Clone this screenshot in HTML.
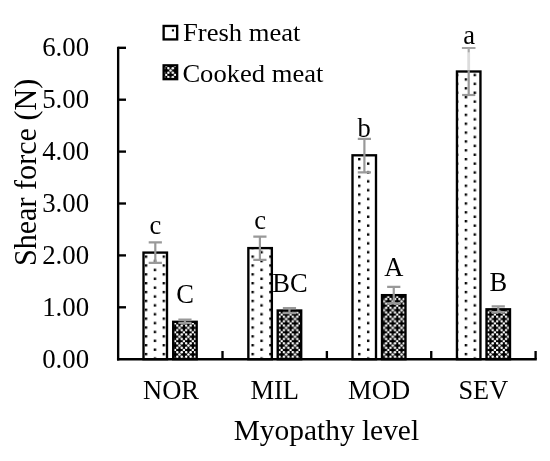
<!DOCTYPE html>
<html><head><meta charset="utf-8"><title>Shear force chart</title>
<style>
html,body{margin:0;padding:0;background:#fff;}
svg{display:block;}
text{font-family:"Liberation Serif","DejaVu Serif",serif;fill:#000;}
</style></head><body>
<svg width="550" height="461" viewBox="0 0 550 461">
<defs>
<pattern id="dots" patternUnits="userSpaceOnUse" x="144.85" y="255.45" width="17.77" height="8.86">
<rect width="17.77" height="8.86" fill="#fff"/>
<rect x="0" y="0" width="2.4" height="2.4" fill="#000"/>
<rect x="8.885" y="4.43" width="2.4" height="2.4" fill="#000"/>
</pattern>
<pattern id="trel" patternUnits="userSpaceOnUse" x="176.15" y="324.45" width="8.885" height="8.86">
<rect width="8.885" height="8.86" fill="#000"/>
<g fill="#fff">
<circle cx="1.150" cy="1.150" r="1.27"/>
<circle cx="5.592" cy="1.150" r="1.27"/>
<circle cx="3.371" cy="3.365" r="1.27"/>
<circle cx="1.150" cy="5.580" r="1.27"/>
<circle cx="5.592" cy="5.580" r="1.27"/>
<circle cx="7.814" cy="7.795" r="1.27"/>
</g>
</pattern>
<pattern id="trel2" patternUnits="userSpaceOnUse" x="167.25" y="67.05" width="8.885" height="8.86">
<rect width="8.885" height="8.86" fill="#000"/>
<g fill="#fff">
<circle cx="1.150" cy="1.150" r="1.27"/>
<circle cx="5.592" cy="1.150" r="1.27"/>
<circle cx="3.371" cy="3.365" r="1.27"/>
<circle cx="1.150" cy="5.580" r="1.27"/>
<circle cx="5.592" cy="5.580" r="1.27"/>
<circle cx="7.814" cy="7.795" r="1.27"/>
</g>
</pattern>
</defs>
<rect width="550" height="461" fill="#fff"/>
<rect x="143.50" y="252.60" width="23.5" height="106.60" fill="url(#dots)" stroke="#000" stroke-width="2.35"/>
<rect x="173.20" y="321.80" width="23.5" height="37.40" fill="url(#trel)" stroke="#000" stroke-width="2.35"/>
<rect x="248.35" y="248.10" width="23.5" height="111.10" fill="url(#dots)" stroke="#000" stroke-width="2.35"/>
<rect x="277.70" y="310.50" width="23.5" height="48.70" fill="url(#trel)" stroke="#000" stroke-width="2.35"/>
<rect x="352.50" y="155.30" width="23.5" height="203.90" fill="url(#dots)" stroke="#000" stroke-width="2.35"/>
<rect x="382.00" y="295.15" width="23.5" height="64.05" fill="url(#trel)" stroke="#000" stroke-width="2.35"/>
<rect x="456.95" y="71.50" width="23.5" height="287.70" fill="url(#dots)" stroke="#000" stroke-width="2.35"/>
<rect x="486.50" y="309.30" width="23.5" height="49.90" fill="url(#trel)" stroke="#000" stroke-width="2.35"/>
<g stroke="#000" stroke-width="2.35" fill="none" stroke-linecap="butt">
<path d="M118.15 46.63 V360.38"/>
<path d="M116.98 359.2 H536.77"/>
<path d="M118.15 307.30 H126"/>
<path d="M118.15 255.40 H126"/>
<path d="M118.15 203.50 H126"/>
<path d="M118.15 151.60 H126"/>
<path d="M118.15 99.70 H126"/>
<path d="M118.15 47.80 H126"/>
<path d="M222.51 359.2 V351"/>
<path d="M326.88 359.2 V351"/>
<path d="M431.24 359.2 V351"/>
<path d="M535.60 359.2 V351"/>
</g>
<g stroke="#999" stroke-width="2.2" fill="none"><path d="M148.70 242.40 H161.90 M148.70 262.80 H161.90"/><path d="M155.30 242.40 V262.80"/></g>
<g stroke="#999" stroke-width="2.2" fill="none"><path d="M178.35 319.70 H191.55 M178.35 322.90 H191.55"/><path d="M184.95 319.70 V322.90"/></g>
<g stroke="#999" stroke-width="2.2" fill="none"><path d="M253.30 236.60 H266.50 M253.30 259.80 H266.50"/><path d="M259.90 236.60 V259.80"/></g>
<g stroke="#999" stroke-width="2.2" fill="none"><path d="M282.85 308.10 H296.05 M282.85 313.10 H296.05"/><path d="M289.45 308.10 V313.10"/></g>
<g stroke="#999" stroke-width="2.2" fill="none"><path d="M357.80 138.90 H371.00 M357.80 172.30 H371.00"/><path d="M364.40 138.90 V172.30"/></g>
<g stroke="#999" stroke-width="2.2" fill="none"><path d="M387.15 286.85 H400.35 M387.15 303.35 H400.35"/><path d="M393.75 286.85 V303.35"/></g>
<g stroke="#999" stroke-width="2.2" fill="none"><path d="M461.90 48.00 H475.50" stroke-width="1.8" stroke="#9a9a9a"/><path d="M462.10 95.00 H475.30"/><path d="M468.70 52.50 V70.30" stroke="#dcdcdc" stroke-width="2.8"/><path d="M468.70 48.00 V52.50" stroke="#a8a8a8"/><path d="M468.70 70.30 V95.00"/></g>
<g stroke="#999" stroke-width="2.2" fill="none"><path d="M491.65 306.40 H504.85 M491.65 312.10 H504.85"/><path d="M498.25 306.40 V312.10"/></g>
<text x="89.2" y="367.50" font-size="27" text-anchor="end" textLength="47" lengthAdjust="spacingAndGlyphs">0.00</text>
<text x="89.2" y="315.60" font-size="27" text-anchor="end" textLength="47" lengthAdjust="spacingAndGlyphs">1.00</text>
<text x="89.2" y="263.70" font-size="27" text-anchor="end" textLength="47" lengthAdjust="spacingAndGlyphs">2.00</text>
<text x="89.2" y="211.80" font-size="27" text-anchor="end" textLength="47" lengthAdjust="spacingAndGlyphs">3.00</text>
<text x="89.2" y="159.90" font-size="27" text-anchor="end" textLength="47" lengthAdjust="spacingAndGlyphs">4.00</text>
<text x="89.2" y="108.00" font-size="27" text-anchor="end" textLength="47" lengthAdjust="spacingAndGlyphs">5.00</text>
<text x="89.2" y="56.10" font-size="27" text-anchor="end" textLength="47" lengthAdjust="spacingAndGlyphs">6.00</text>
<text x="171.0" y="398.9" font-size="26.3" text-anchor="middle" textLength="56" lengthAdjust="spacingAndGlyphs">NOR</text>
<text x="274.75" y="398.9" font-size="26.3" text-anchor="middle" textLength="48.6" lengthAdjust="spacingAndGlyphs">MIL</text>
<text x="379.1" y="398.9" font-size="26.3" text-anchor="middle" textLength="62" lengthAdjust="spacingAndGlyphs">MOD</text>
<text x="483.3" y="398.9" font-size="26.3" text-anchor="middle" textLength="49.6" lengthAdjust="spacingAndGlyphs">SEV</text>
<text x="155.45" y="233.7" font-size="26.5" text-anchor="middle">c</text>
<text x="260.15" y="229.4" font-size="26.5" text-anchor="middle">c</text>
<text x="364.2" y="136.8" font-size="26.5" text-anchor="middle">b</text>
<text x="469.2" y="43.7" font-size="26.5" text-anchor="middle">a</text>
<text x="185.1" y="303.1" font-size="26.5" text-anchor="middle">C</text>
<text x="289.9" y="291.7" font-size="26.5" text-anchor="middle">BC</text>
<text x="393.8" y="276.4" font-size="26.5" text-anchor="middle">A</text>
<text x="498.4" y="290.8" font-size="26.5" text-anchor="middle">B</text>
<text x="233.7" y="440.4" font-size="28.5" textLength="185.4" lengthAdjust="spacingAndGlyphs">Myopathy level</text>
<text transform="translate(36.4 266.1) rotate(-90)" x="0" y="0" font-size="32.5" textLength="187.4" lengthAdjust="spacingAndGlyphs">Shear force (N)</text>
<rect x="163.65" y="25.95" width="13.5" height="13.45" fill="#fff" stroke="#000" stroke-width="2.35"/>
<rect x="171.9" y="29.35" width="2.1" height="2.1" fill="#000"/>
<rect x="163.65" y="65.35" width="13.5" height="13.8" fill="url(#trel2)" stroke="#000" stroke-width="2.35"/>
<text x="183" y="40.9" font-size="25.8" textLength="117.5" lengthAdjust="spacingAndGlyphs">Fresh meat</text>
<text x="182.4" y="81.5" font-size="25.8" textLength="141" lengthAdjust="spacingAndGlyphs">Cooked meat</text>
</svg>
</body></html>
